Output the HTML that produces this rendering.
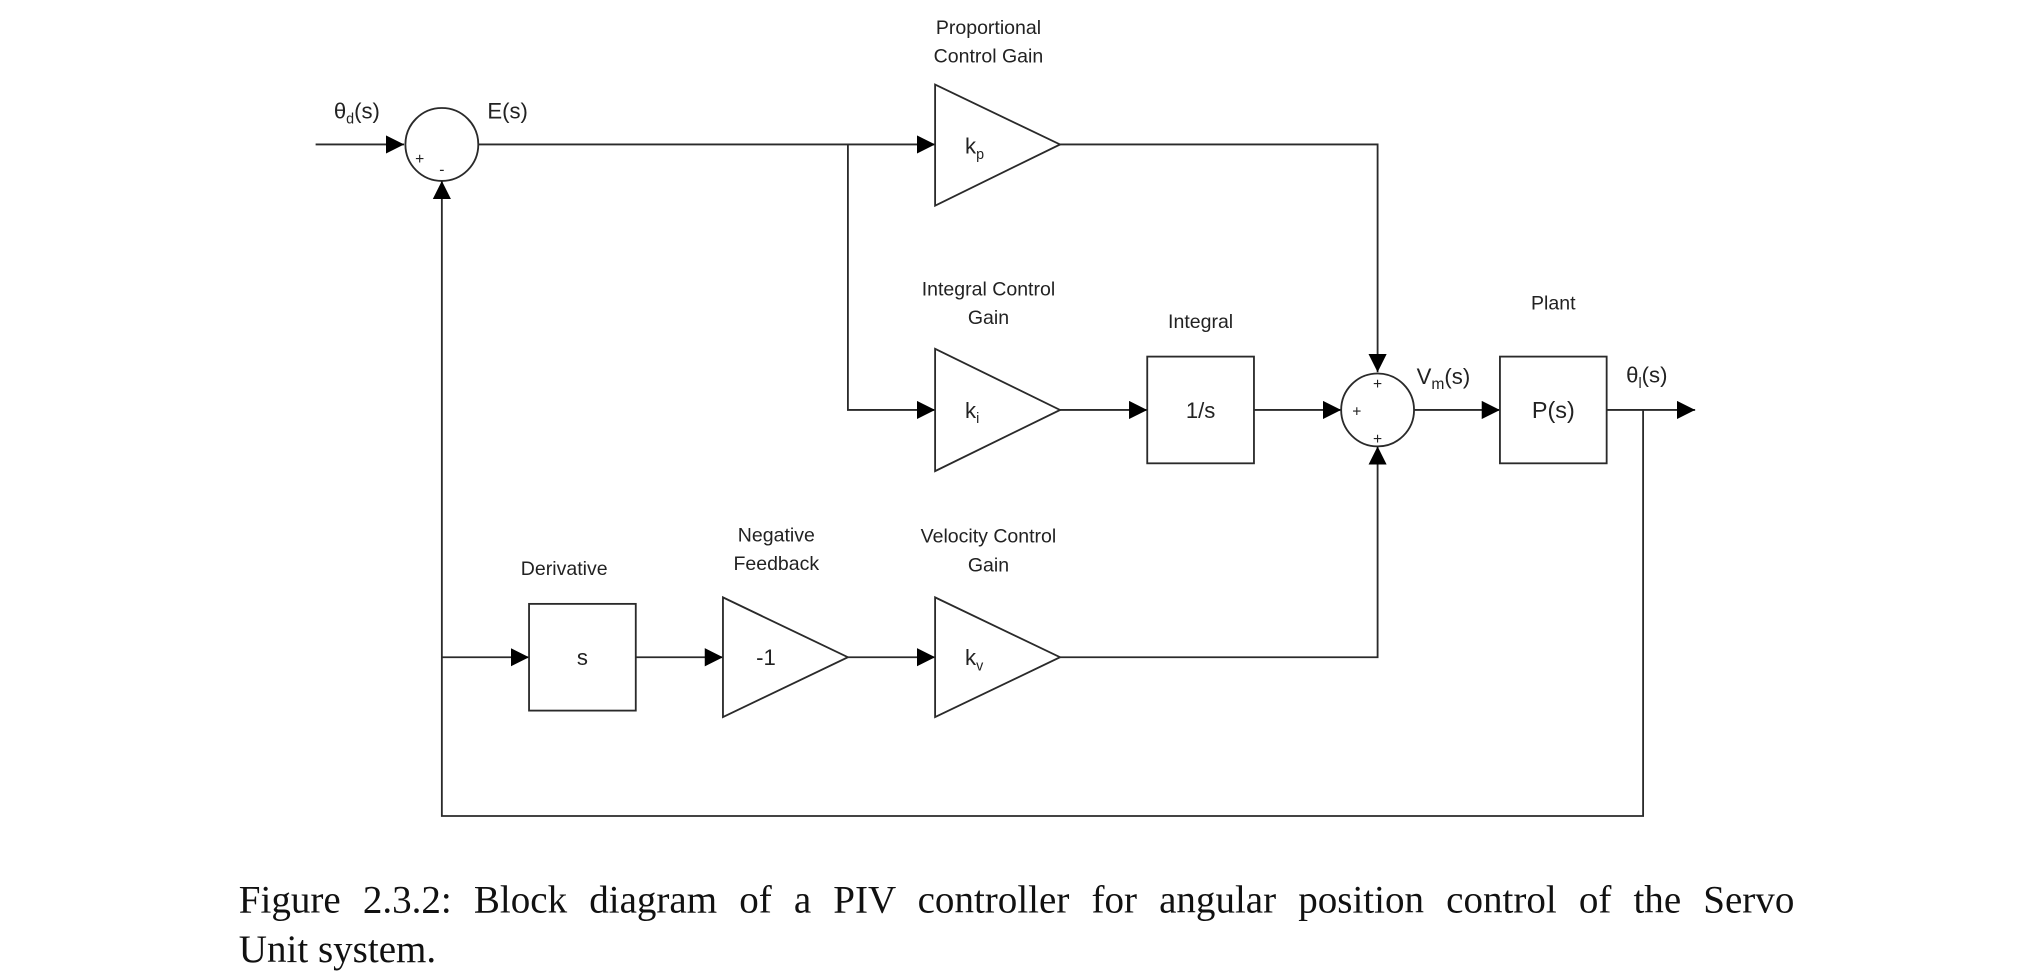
<!DOCTYPE html>
<html><head><meta charset="utf-8"><style>
html,body{margin:0;padding:0;background:#fff;}
svg{display:block;}
.l{font-family:"Liberation Sans",Arial,sans-serif;fill:#222;}
.c{font-family:"Liberation Serif","Times New Roman",serif;fill:#111;}
</style></head><body>
<svg width="2042" height="980" viewBox="0 0 1568 753" xmlns="http://www.w3.org/2000/svg">
<defs>
<marker id="a" viewBox="0 0 10 10" refX="10" refY="5" markerWidth="14" markerHeight="14" markerUnits="userSpaceOnUse" orient="auto">
<path d="M0,0 L10,5 L0,10 z" fill="#000"/></marker>
</defs>
<g stroke="#2a2a2a" stroke-width="1.4" fill="none">
<line x1="242" y1="111" x2="310" y2="111" marker-end="url(#a)"/>
<circle cx="339" cy="111" r="28"/>
<line x1="367" y1="111" x2="718" y2="111" marker-end="url(#a)"/>
<polyline points="651,111 651,315 718,315" marker-end="url(#a)"/>
<polygon points="718,65 814,111 718,158"/>
<polyline points="814,111 1058,111 1058,286" marker-end="url(#a)"/>
<polygon points="718,268 814,315 718,362"/>
<line x1="814" y1="315" x2="881" y2="315" marker-end="url(#a)"/>
<rect x="881" y="274" width="82" height="82"/>
<line x1="963" y1="315" x2="1030" y2="315" marker-end="url(#a)"/>
<circle cx="1058" cy="315" r="28"/>
<line x1="1086" y1="315" x2="1152" y2="315" marker-end="url(#a)"/>
<rect x="1152" y="274" width="82" height="82"/>
<line x1="1234" y1="315" x2="1302" y2="315" marker-end="url(#a)"/>
<polyline points="1262,315 1262,627 339,627 339,139" marker-end="url(#a)"/>
<line x1="339" y1="505" x2="406" y2="505" marker-end="url(#a)"/>
<rect x="406" y="464" width="82" height="82"/>
<line x1="488" y1="505" x2="555" y2="505" marker-end="url(#a)"/>
<polygon points="555,459 651,505 555,551"/>
<line x1="651" y1="505" x2="718" y2="505" marker-end="url(#a)"/>
<polygon points="718,459 814,505 718,551"/>
<polyline points="814,505 1058,505 1058,343" marker-end="url(#a)"/>
</g>
<g class="l" font-size="15" text-anchor="middle">
<text x="759" y="26">Proportional</text>
<text x="759" y="48">Control Gain</text>
<text x="759" y="227">Integral Control</text>
<text x="759" y="249">Gain</text>
<text x="922" y="252">Integral</text>
<text x="1193" y="238">Plant</text>
<text x="433" y="442">Derivative</text>
<text x="596" y="416">Negative</text>
<text x="596" y="438">Feedback</text>
<text x="759" y="417">Velocity Control</text>
<text x="759" y="439">Gain</text>
<text x="447" y="511" font-size="17">s</text>
<text x="588" y="511" font-size="17">-1</text>
<text x="922" y="321" font-size="17">1/s</text>
<text x="1193" y="321" font-size="18">P(s)</text>
<text x="322" y="126" font-size="12">+</text>
<text x="339" y="134" font-size="12">-</text>
<text x="1058" y="299" font-size="12">+</text>
<text x="1042" y="320" font-size="12">+</text>
<text x="1058" y="341" font-size="12">+</text>
</g>
<g class="l" font-size="17">
<text x="741" y="118">k<tspan font-size="11" dy="4">p</tspan></text>
<text x="741" y="321">k<tspan font-size="11" dy="4">i</tspan></text>
<text x="741" y="511">k<tspan font-size="11" dy="4">v</tspan></text>
<text x="256" y="91">θ<tspan font-size="11" dy="4">d</tspan><tspan dy="-4">(s)</tspan></text>
<text x="374" y="91">E(s)</text>
<text x="1088" y="295">V<tspan font-size="12" dy="4">m</tspan><tspan dy="-4">(s)</tspan></text>
<text x="1249" y="294">θ<tspan font-size="11" dy="4">l</tspan><tspan dy="-4">(s)</tspan></text>
</g>
<g class="c" font-size="30">
<text x="183" y="701" word-spacing="9.5">Figure 2.3.2: Block diagram of a PIV controller for angular position control of the Servo</text>
<text x="183" y="739">Unit system.</text>
</g>
</svg>
</body></html>
